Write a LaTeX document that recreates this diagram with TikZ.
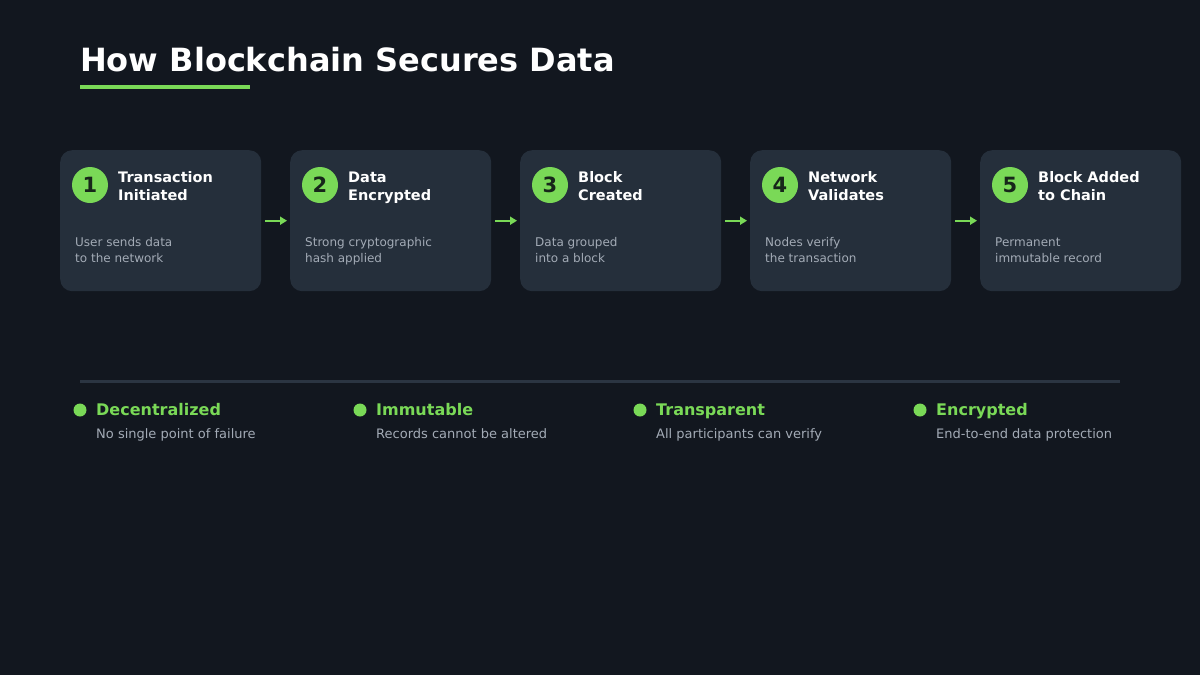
\documentclass[tikz,border=0pt]{standalone}
\usepackage{fontspec}
\setmainfont{DejaVu Sans}
\usetikzlibrary{arrows.meta}

\definecolor{bgdark}{HTML}{12171F}
\definecolor{boxfill}{HTML}{252F3B}
\definecolor{accent}{HTML}{7AD957}
\definecolor{rulegray}{HTML}{2B3542}
\definecolor{descgray}{HTML}{A3ABB6}
\definecolor{numdark}{HTML}{17261A}

\tikzset{
	stepbox/.style={fill=boxfill, rounded corners=12pt, minimum width=201pt,
		minimum height=141pt, anchor=north west, inner sep=0pt},
	numdot/.style={circle, fill=accent, minimum size=36pt, inner sep=0pt,
		text=numdark, font=\bfseries\fontsize{21}{24}\selectfont},
	steptitle/.style={anchor=west, inner sep=0pt, align=left, text=white,
		font=\bfseries\fontsize{14.5}{18}\selectfont,
		execute at begin node=\strut, execute at end node=\strut},
	stepdesc/.style={anchor=west, inner sep=0pt, align=left, text=descgray,
		font=\fontsize{12}{16}\selectfont,
		execute at begin node=\strut, execute at end node=\strut},
	flowarrow/.style={draw=accent, line width=1.8pt, shorten <=4pt, shorten >=3pt,
		-{Triangle[length=7pt,width=8pt]}},
	featdot/.style={circle, fill=accent, minimum size=13pt, inner sep=0pt},
	feattitle/.style={anchor=base west, inner sep=0pt, text=accent,
		font=\bfseries\fontsize{16}{19}\selectfont},
	featdesc/.style={anchor=base west, inner sep=0pt, text=descgray,
		font=\fontsize{13}{16}\selectfont}
}

\begin{document}
\begin{tikzpicture}[x=1pt, y=-1pt]
	\def\xstart{60}  % Left edge of the first step box
	\def\xgap{230}   % Horizontal gap between step boxes
	\def\fstart{80}  % Left edge of the first feature
	\def\fgap{280}   % Horizontal gap between features
	
	% Background and page size
	\fill[bgdark] (0,0) rectangle (1200,675);
	\useasboundingbox (0,0) rectangle (1200,675);
	
	% Heading
	\node[anchor=base west, inner sep=0pt, text=white, font=\bfseries\fontsize{32}{38}\selectfont]
	(heading) at (80,71) {How Blockchain Secures Data};
	\draw[accent, line width=4pt] (80,87) -- (250,87);
	
	% Step boxes
	\foreach \i/\ttl/\dsc in {
		1/{Transaction\\Initiated}/{User sends data\\to the network},
		2/{Data\\Encrypted}/{Strong cryptographic\\hash applied},
		3/{Block\\Created}/{Data grouped\\into a block},
		4/{Network\\Validates}/{Nodes verify\\the transaction},
		5/{Block Added\\to Chain}/{Permanent\\immutable record}} {
		\pgfmathsetmacro{\x}{\xstart + (\i-1) * \xgap}
		
		\node[stepbox] (box\i) at (\x,150) {};
		\node[numdot] (num\i) at (\x+30,185) {\i};
		\node[steptitle] (title\i) at (\x+58,188.5) {\ttl};
		\node[stepdesc] (desc\i) at (\x+15,252.5) {\dsc};
	}
	
	% Arrows between the steps
	\foreach \i [evaluate=\i as \j using int(\i+1)] in {1,...,4} {
		\draw[flowarrow] (box\i.east) -- (box\j.west);
	}
	
	% Separator
	\draw[rulegray, line width=3pt] (80,381) -- (1120,381);
	
	% Properties
	\foreach \i/\ft/\fd in {
		0/Decentralized/No single point of failure,
		1/Immutable/Records cannot be altered,
		2/Transparent/All participants can verify,
		3/Encrypted/End-to-end data protection} {
		\pgfmathsetmacro{\x}{\fstart + \i * \fgap}
		
		\node[featdot] (dot\i) at (\x,410) {};
		\node[feattitle] (feat\i) at (\x+16,415) {\ft};
		\node[featdesc] (featdesc\i) at (\x+16,438) {\fd};
	}
\end{tikzpicture}
\end{document}
